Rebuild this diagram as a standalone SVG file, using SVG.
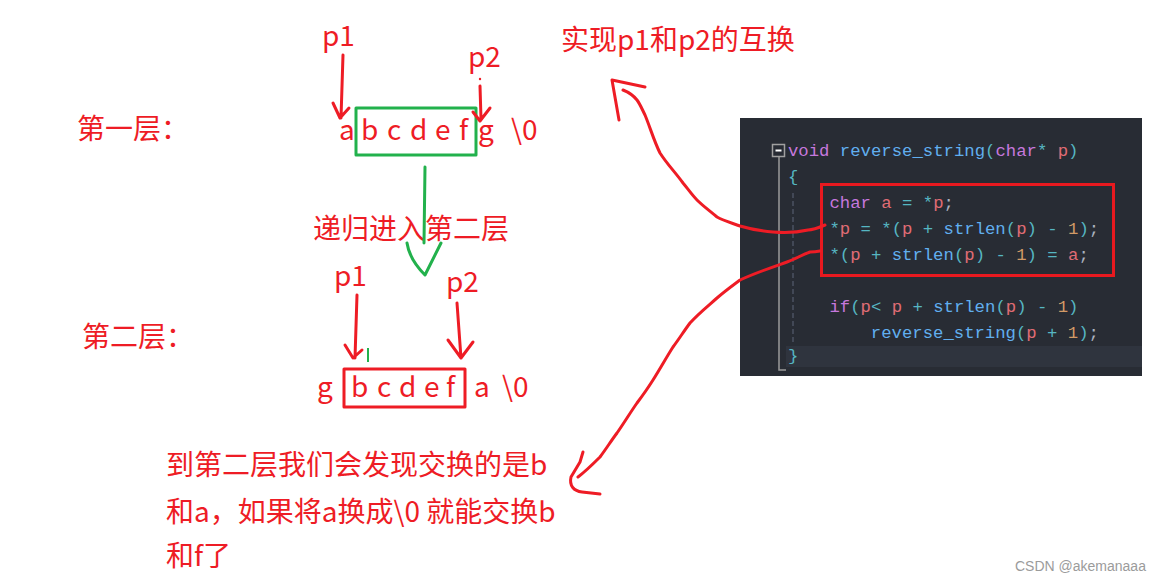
<svg xmlns="http://www.w3.org/2000/svg" width="1161" height="580" viewBox="0 0 1161 580">
<style>
.t{font-family:"Noto Sans CJK SC","Noto Sans",sans-serif;fill:#ee1c25;font-size:28px}
.ln{fill:none;stroke:#ee1c25;stroke-width:3;stroke-linecap:round;stroke-linejoin:round}
.gn{fill:none;stroke:#22b14c;stroke-width:3;stroke-linecap:round;stroke-linejoin:round}
.code{font-family:"Liberation Mono","DejaVu Sans Mono",monospace;font-size:17.3px}
.k{fill:#c678dd}.f{fill:#61afef}.o{fill:#56b6c2}.v{fill:#e06c75}.n{fill:#d19a66}.g{fill:#abb2bf}
</style>
<rect width="1161" height="580" fill="#ffffff"/>

<g id="title">
<text class="t" x="561" y="50">实现p1和p2的互换</text>
</g>

<g id="layer1-label"><text class="t" x="77" y="139">第一层：</text></g>
<g id="layer2-label"><text class="t" x="82" y="347">第二层：</text></g>

<g id="row1">
<text class="t" x="322" y="46">p1</text>
<text class="t" x="468" y="67">p2</text>
<text class="t" y="140"><tspan x="339">a</tspan><tspan x="361">b</tspan><tspan x="387">c</tspan><tspan x="410">d</tspan><tspan x="435">e</tspan><tspan x="459">f</tspan><tspan x="478">g</tspan><tspan x="511">\0</tspan></text>
<rect x="356" y="108" width="120" height="47" class="gn"/>
</g>

<g id="recurse-label"><text class="t" x="313" y="239">递归进入第二层</text></g>

<g id="row2">
<text class="t" x="334" y="286">p1</text>
<text class="t" x="446" y="292">p2</text>
<text class="t" y="397"><tspan x="317">g</tspan><tspan x="351">b</tspan><tspan x="377">c</tspan><tspan x="399">d</tspan><tspan x="424">e</tspan><tspan x="446">f</tspan><tspan x="474">a</tspan><tspan x="502">\0</tspan></text>
<rect x="344" y="369" width="121" height="38" class="ln" stroke-linecap="butt" stroke-linejoin="miter"/>
</g>

<g id="note">
<text class="t" x="166" y="475">到第二层我们会发现交换的是b</text>
<text class="t" x="166" y="522">和a，如果将a换成\0 就能交换b</text>
<text class="t" x="166" y="566">和f了</text>
</g>

<g id="code-block">
<rect x="740" y="118" width="402" height="258" fill="#282c34"/>
<rect x="786" y="346" width="356" height="21" fill="#2f343e"/>
<rect x="772.5" y="144.5" width="12" height="12" fill="#282c34" stroke="#a0a0a0" stroke-width="1.5"/>
<line x1="775.5" y1="150.5" x2="781.5" y2="150.5" stroke="#ffffff" stroke-width="2"/>
<polyline points="779,157 779,370 786,370" fill="none" stroke="#9a9a9a" stroke-width="1.5"/>
<line x1="793" y1="193" x2="793" y2="343" stroke="#4b5161" stroke-width="1.5" stroke-dasharray="5,3"/>
<g class="code" xml:space="preserve">
<text x="788" y="156"><tspan class="k">void</tspan> <tspan class="f">reverse_string</tspan><tspan class="o">(</tspan><tspan class="k">char</tspan><tspan class="o">*</tspan> <tspan class="v">p</tspan><tspan class="o">)</tspan></text>
<text x="788" y="182"><tspan class="o">{</tspan></text>
<text x="829.4" y="208"><tspan class="k">char</tspan> <tspan class="v">a</tspan> <tspan class="o">=</tspan> <tspan class="o">*</tspan><tspan class="v">p</tspan><tspan class="g">;</tspan></text>
<text x="829.4" y="234"><tspan class="o">*</tspan><tspan class="v">p</tspan> <tspan class="o">=</tspan> <tspan class="o">*(</tspan><tspan class="v">p</tspan> <tspan class="o">+</tspan> <tspan class="f">strlen</tspan><tspan class="o">(</tspan><tspan class="v">p</tspan><tspan class="o">)</tspan> <tspan class="o">-</tspan> <tspan class="n">1</tspan><tspan class="o">)</tspan><tspan class="g">;</tspan></text>
<text x="829.4" y="260"><tspan class="o">*(</tspan><tspan class="v">p</tspan> <tspan class="o">+</tspan> <tspan class="f">strlen</tspan><tspan class="o">(</tspan><tspan class="v">p</tspan><tspan class="o">)</tspan> <tspan class="o">-</tspan> <tspan class="n">1</tspan><tspan class="o">)</tspan> <tspan class="o">=</tspan> <tspan class="v">a</tspan><tspan class="g">;</tspan></text>
<text x="829.4" y="312"><tspan class="k">if</tspan><tspan class="o">(</tspan><tspan class="v">p</tspan><tspan class="o">&lt;</tspan> <tspan class="v">p</tspan> <tspan class="o">+</tspan> <tspan class="f">strlen</tspan><tspan class="o">(</tspan><tspan class="v">p</tspan><tspan class="o">)</tspan> <tspan class="o">-</tspan> <tspan class="n">1</tspan><tspan class="o">)</tspan></text>
<text x="870.8" y="338"><tspan class="f">reverse_string</tspan><tspan class="o">(</tspan><tspan class="v">p</tspan> <tspan class="o">+</tspan> <tspan class="n">1</tspan><tspan class="o">)</tspan><tspan class="g">;</tspan></text>
<text x="788" y="361"><tspan class="o">}</tspan></text>
</g>
<rect x="821.5" y="184.5" width="292" height="91" fill="none" stroke="#e8191f" stroke-width="3"/>
</g>

<g id="connectors">
<path class="ln" d="M343,55 L341,118 M333,103 L340,118 L349,108"/>
<circle cx="480" cy="79" r="1.2" fill="#ee1c25"/>
<path class="ln" d="M480,86 L481,119 M473,112 L480,121 L490,108"/>
<path class="gn" d="M425,167 L424,243 M407,243 C409,256 418,268 425,275 L441,243"/>
<path class="ln" d="M357,295 L355,358 M345,345 L353,358 L362,350"/>
<path class="ln" d="M457,303 L461,358 M448,340 L461,358 L473,342"/>
<line x1="368" y1="348" x2="368" y2="362" stroke="#22b14c" stroke-width="2"/>
<path class="ln" d="M825,225 C818,228 812,230 808,230 C795,233 785,233 773,232 C760,231 750,229 740,226 C732,223 724,221 717,217 C710,211 703,206 697,200 C692,195 688,189 683,183 C675,172 667,164 660,153 C654,141 650,127 645,115 C642,109 640,104 637,100 C633,95 628,92 623,90"/>
<path class="ln" d="M619,120 L612,80 L645,87"/>
<path class="ln" d="M820,251 C815,252 812,252 810,252 C802,255 795,259 787,262 C770,268 755,273 740,280 C732,286 725,291 717,298 C708,306 698,314 690,323 C684,331 679,339 673,347 C666,358 660,369 653,380 C648,388 643,395 637,403 C630,413 624,423 617,433 C611,441 606,449 600,457 C593,464 586,471 578,477"/>
<path class="ln" d="M583,452 L580,462 L571,477 C569,486 574,491 582,492 L600,494"/>
</g>

<g id="watermark"><text x="1015" y="571" font-family="Liberation Sans,Arial,sans-serif" font-size="14" fill="#9b9b9b">CSDN @akemanaaa</text></g>
</svg>
